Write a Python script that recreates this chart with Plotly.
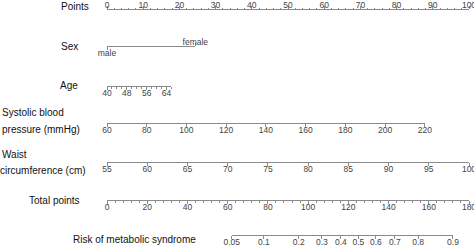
import math
import plotly.graph_objects as go

# ---------------- data ----------------
points_ticks = list(range(0, 101, 10))
sex_levels = ["male", "female"]
sex_points = [0, 24.4]
age_ticks = [40, 48, 56, 64]
age_range = [40, 66]
age_points_at_max = 17.8
sbp_ticks = list(range(60, 221, 20))
sbp_range = [60, 220]
sbp_points_at_max = 87.8
waist_ticks = list(range(55, 101, 5))
waist_range = [55, 100]
waist_points_at_max = 100
total_ticks = list(range(0, 181, 20))
total_range = [0, 180]
risk_ticks = [0.05, 0.1, 0.2, 0.3, 0.4, 0.5, 0.6, 0.7, 0.8, 0.9]
risk_labels = ["0.05", "0.1", "0.2", "0.3", "0.4", "0.5", "0.6", "0.7", "0.8", "0.9"]
risk_tp_at_half = 125.0
risk_tp_per_logit = 21.4

# ---------------- geometry ----------------
W, H = 474, 248
X0, X1 = 107, 469  # pixel position of 0 and 100 points

FONT = "Liberation Sans, Arial, sans-serif"
LINE_C = "#8a8a8a"
TICKLAB_C = "#444444"
LABEL_C = "#111111"


def px_points(p):
    return X0 + p / 100.0 * (X1 - X0)


def px_total(t):
    return X0 + t / total_range[1] * (X1 - X0)


def fx(px):
    return px / W


def fy(py):
    return 1 - py / H


def logit(p):
    return math.log(p / (1 - p))


fig = go.Figure()
layout_axes = {}
axis_count = [0]


def add_axis(dom_px, rng, line_py, side="bottom", tickvals=None, ticktext=None,
             minor_dtick=None, showline=True, ticklen=3):
    axis_count[0] += 1
    n = axis_count[0]
    xname = "x" if n == 1 else f"x{n}"
    key = "xaxis" if n == 1 else f"xaxis{n}"
    ax = dict(
        domain=[fx(dom_px[0]), fx(dom_px[1])],
        range=list(rng),
        anchor="free",
        position=fy(line_py),
        side=side,
        automargin=False,
        showline=showline,
        linecolor=LINE_C,
        linewidth=1,
        ticks="outside",
        ticklen=ticklen,
        tickwidth=1,
        tickcolor=LINE_C,
        showgrid=False,
        zeroline=False,
        fixedrange=True,
        tickfont=dict(family=FONT, size=8.5, color=TICKLAB_C),
        ticklabelstandoff=-5 if side == "top" else -4,
        ticklabeloverflow="allow",
        tickmode="array",
        tickvals=tickvals,
        ticktext=ticktext if ticktext is not None else [str(v) for v in tickvals],
    )
    if minor_dtick is not None:
        ax["minor"] = dict(ticks="outside", ticklen=1.5, tickwidth=1, tickcolor=LINE_C,
                           dtick=minor_dtick, tick0=rng[0], showgrid=False)
    layout_axes[key] = ax
    fig.add_trace(go.Scatter(x=list(rng), y=[-10, -10], xaxis=xname, yaxis="y",
                             mode="markers", marker=dict(opacity=0),
                             hoverinfo="skip", showlegend=False))


# Points
add_axis((px_points(0), px_points(100)), (0, 100), 9, side="top",
         tickvals=points_ticks, minor_dtick=2)
# Sex (male below, female above)
sex_dom = (px_points(sex_points[0]), px_points(sex_points[1]))
add_axis(sex_dom, (0, 1), 46, side="bottom", tickvals=[0], ticktext=[sex_levels[0]])
add_axis(sex_dom, (0, 1), 46, side="top", tickvals=[1], ticktext=[sex_levels[1]], showline=False)
# Age
add_axis((px_points(0), px_points(age_points_at_max)), age_range, 86,
         tickvals=age_ticks, minor_dtick=2)
# Systolic blood pressure
add_axis((px_points(0), px_points(sbp_points_at_max)), sbp_range, 123, tickvals=sbp_ticks)
# Waist
add_axis((px_points(0), px_points(waist_points_at_max)), waist_range, 162, tickvals=waist_ticks)
# Total points
add_axis((px_total(0), px_total(total_range[1])), total_range, 200,
         tickvals=total_ticks, minor_dtick=4)
# Risk
lo, hi = logit(risk_ticks[0]), logit(risk_ticks[-1])
tp_lo = risk_tp_at_half + risk_tp_per_logit * lo
tp_hi = risk_tp_at_half + risk_tp_per_logit * hi
add_axis((px_total(tp_lo), px_total(tp_hi)), (lo, hi), 235,
         tickvals=[logit(p) for p in risk_ticks], ticktext=risk_labels)

# Row labels
row_labels = [
    ("Points", 59, 7),
    ("Sex", 59, 46),
    ("Age", 58, 85),
    ("Systolic blood", 0, 112),
    ("pressure (mmHg)", 0, 129),
    ("Waist", 0, 154),
    ("circumference (cm)", -2, 170),
    ("Total points", 27, 200),
    ("Risk of metabolic syndrome", 71, 239),
]
annotations = []
for txt, x, y in row_labels:
    annotations.append(dict(text=txt, x=fx(x), y=fy(y), xref="paper", yref="paper",
                            xanchor="left", yanchor="middle", showarrow=False,
                            font=dict(family=FONT, size=10, color=LABEL_C)))

fig.update_layout(
    width=W, height=H,
    margin=dict(l=0, r=0, t=0, b=0, autoexpand=False),
    paper_bgcolor="white", plot_bgcolor="rgba(0,0,0,0)",
    showlegend=False,
    yaxis=dict(range=[0, 1], domain=[0, 1], visible=False, fixedrange=True,
               automargin=False),
    annotations=annotations,
    **layout_axes,
)

fig.write_html("out.html")
